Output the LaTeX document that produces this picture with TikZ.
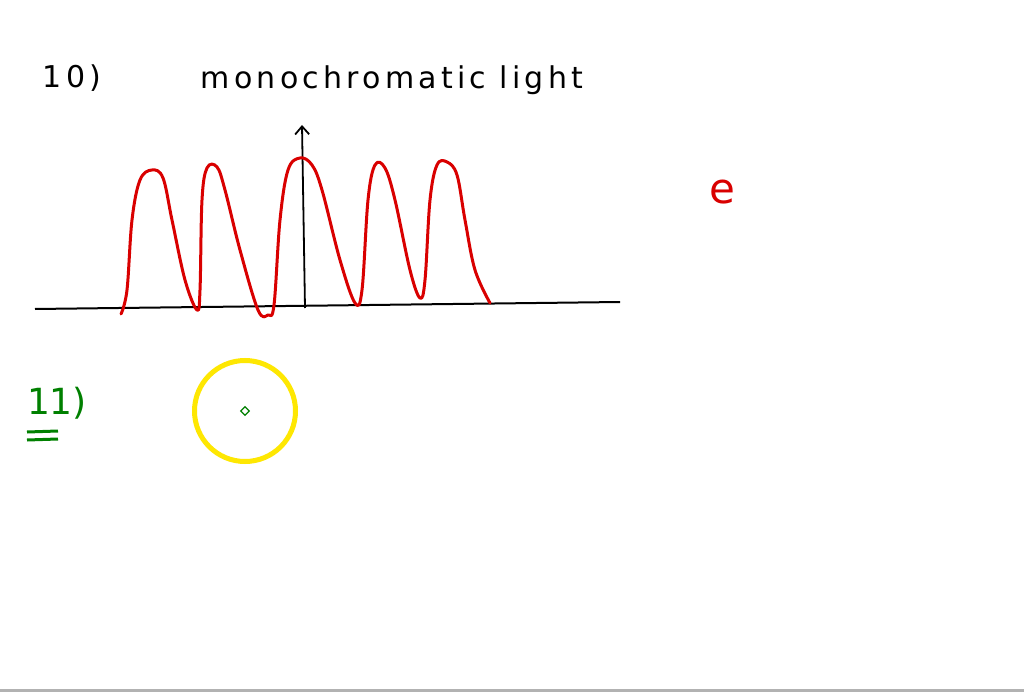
\documentclass[tikz,border=0pt]{standalone}
\usetikzlibrary{arrows.meta}
\usepackage{fontspec}
\setmainfont{DejaVu Sans}
\begin{document}
\begin{tikzpicture}[x=1pt,y=-1pt,
  hand/.style={font=\fontsize{30}{34}\selectfont\addfontfeature{LetterSpace=14}}]
\useasboundingbox (0,0) rectangle (1024,692);
\fill[white] (0,0) rectangle (1024,692);
\node[hand,inner sep=0] (q10) at (72,78) {10)};
\node[hand,inner sep=0] (title) at (392,80) {monochromatic light};
\coordinate (a1) at (35,309); \coordinate (a2) at (620,302);
\draw[line width=2pt] (a1) -- (a2);
\coordinate (v1) at (305,308); \coordinate (v2) at (302,125);
\draw[line width=1.8pt,-{Straight Barb[length=8pt,width=14pt]}] (v1) -- (v2);
\draw[red!85!black,line width=3pt,line cap=round,line join=round] plot[smooth,tension=0.6] coordinates {
(121,314)(127,290)(132,220)(140,180)(152,170)(163,178)(172,220)(185,280)(197,310)(200,290)(202,200)(207,168)(217,167)(225,190)(240,250)(258,310)(268,315)(274,305)(280,220)(288,170)(300,158)(312,165)(322,190)(340,260)(355,303)(362,290)(368,200)(375,165)(385,168)(395,200)(410,270)(420,298)(425,280)(430,200)(437,165)(447,162)(457,175)(465,220)(475,270)(490,303)};
\node[text=red!85!black,font=\fontsize{42}{44}\selectfont] (e) at (722,192) {e};
\node[text=green!50!black,font=\fontsize{36}{38}\selectfont] (q11) at (57,403) {11)};
\draw[green!50!black,line width=3pt] (27,432) -- (58,431) (27,440) -- (58,439);
\node[circle,draw=yellow!90!orange,line width=5pt,minimum size=101pt,inner sep=0] (c) at (245,411) {};
\node[draw=green!50!black,fill=white,line width=1.3pt,minimum size=6pt,inner sep=0,rotate=45] (d) at (c.center) {};
\draw[gray!60,line width=4pt] (0,691) -- (1024,691);
\end{tikzpicture}
\end{document}
